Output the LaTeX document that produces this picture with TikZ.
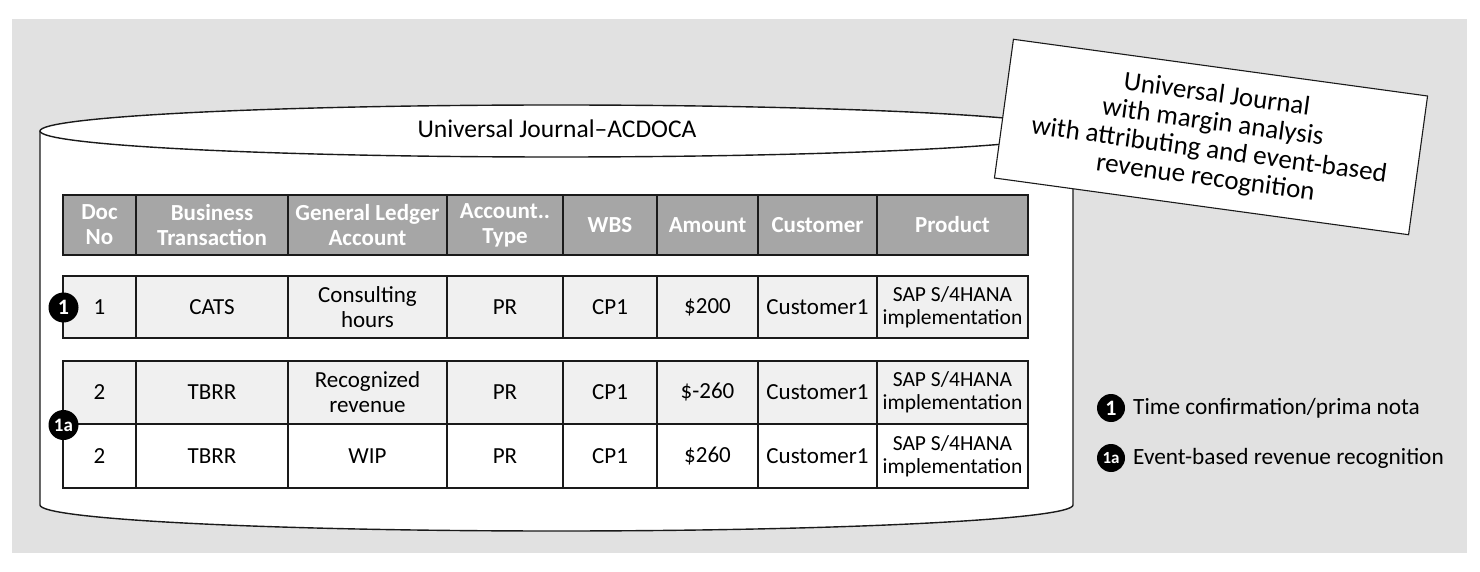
\documentclass[tikz,border=0pt]{standalone}
\usepackage{fontspec}
\setmainfont{Carlito}
\usepackage{tikz}

\definecolor{bggray}{HTML}{E1E1E1}
\definecolor{headgray}{HTML}{A6A6A6}
\definecolor{rowgray}{HTML}{F0F0F0}
\definecolor{inkline}{HTML}{1A1A1A}

\begin{document}
\begin{tikzpicture}[x=1pt, y=1pt,
		cell/.style={
			rectangle, draw=inkline, line width=1.3pt, inner sep=0pt,
			align=center, font=\fontsize{23}{25}\selectfont
		},
		headcell/.style={cell, fill=headgray, text=white, font=\fontsize{23}{25}\selectfont\bfseries},
		prodfont/.style={font=\fontsize{21.5}{23}\selectfont},
		badge/.style={
			circle, fill=black, text=white, inner sep=0pt,
			minimum size=30pt, font=\fontsize{22}{22}\selectfont\bfseries
		},
		legendtext/.style={anchor=west, inner sep=0pt, font=\fontsize{23.3}{25}\selectfont}
	]

		\useasboundingbox (0,0) rectangle (1480,-572);
		\fill[bggray] (12,-19) rectangle (1467,-553);

		% database cylinder
		\draw[line width=1.4pt, draw=inkline, fill=white] (40,-131) -- (40,-505)
			arc[start angle=180, end angle=360, x radius=516.5pt, y radius=26pt] -- (1073,-131);
		\draw[line width=1.4pt, draw=inkline, fill=white] (556.5,-131) ellipse [x radius=516.5pt, y radius=26pt];
		\node[font=\fontsize{25.5}{27}\selectfont] (title) at (557,-129) {Universal Journal–ACDOCA};

		% header row
		\foreach \l/\r/\txt [count=\i] in {63/136/{Doc\\No}, 136/288/{Business\\Transaction},
				288/447/{General Ledger\\Account}, 447/563/{Account..\\Type}, 563/657/WBS,
				657/758/Amount, 758/877/Customer, 877/1028/Product} {
				\node[headcell, minimum width=\r-\l, minimum height=60] (h\i) at ({(\l+\r)/2},-225) {\txt};
			}

		% row 1
		\foreach \l/\r/\txt [count=\i] in {63/136/1, 136/288/CATS, 288/447/{Consulting\\hours},
				447/563/PR, 563/657/CP1, 657/758/{\$200}, 758/877/Customer1} {
				\node[cell, fill=rowgray, minimum width=\r-\l, minimum height=62] (ra\i) at ({(\l+\r)/2},-307) {\txt};
			}

		% row 2
		\foreach \l/\r/\txt [count=\i] in {63/136/2, 136/288/TBRR, 288/447/{Recognized\\revenue},
				447/563/PR, 563/657/CP1, 657/758/{\$-260}, 758/877/Customer1} {
				\node[cell, fill=rowgray, minimum width=\r-\l, minimum height=63] (rb\i) at ({(\l+\r)/2},-392.5) {\txt};
			}

		% row 3
		\foreach \l/\r/\txt [count=\i] in {63/136/2, 136/288/TBRR, 288/447/WIP,
				447/563/PR, 563/657/CP1, 657/758/{\$260}, 758/877/Customer1} {
				\node[cell, fill=white, minimum width=\r-\l, minimum height=64] (rc\i) at ({(\l+\r)/2},-456) {\txt};
			}

		% product column
		\foreach \n/\y/\h/\f in {ra/307/62/rowgray, rb/392.5/63/rowgray, rc/456/64/white} {
				\node[cell, prodfont, fill=\f, minimum width=151, minimum height=\h] (\n8) at (952.5,-\y) {SAP S/4HANA\\implementation};
			}

		% step markers
		\node[badge] (b1) at (63.5,-307.5) {1};
		\node[badge, font=\fontsize{19}{19}\selectfont\bfseries] (b1a) at (63.5,-425) {1a};

		% note
		\node[
			rectangle, draw=inkline, line width=1.1pt, fill=white, rotate=-7.8,
			minimum width=418, minimum height=140, align=center,
			font=\fontsize{27}{28}\selectfont
		] (note) at (1211,-137) {Universal Journal\\with margin analysis\\with attributing and event-based\\revenue recognition};

		% legend
		\node[badge, minimum size=28pt] (l1) at (1111,-408) {1};
		\node[badge, minimum size=28pt, font=\fontsize{17}{17}\selectfont\bfseries] (l1a) at (1111,-458) {1a};
		\node[legendtext] (l1txt) at (1133,-408) {Time confirmation/prima nota};
		\node[legendtext] (l1atxt) at (1133,-458) {Event-based revenue recognition};
	\end{tikzpicture}
\end{document}
